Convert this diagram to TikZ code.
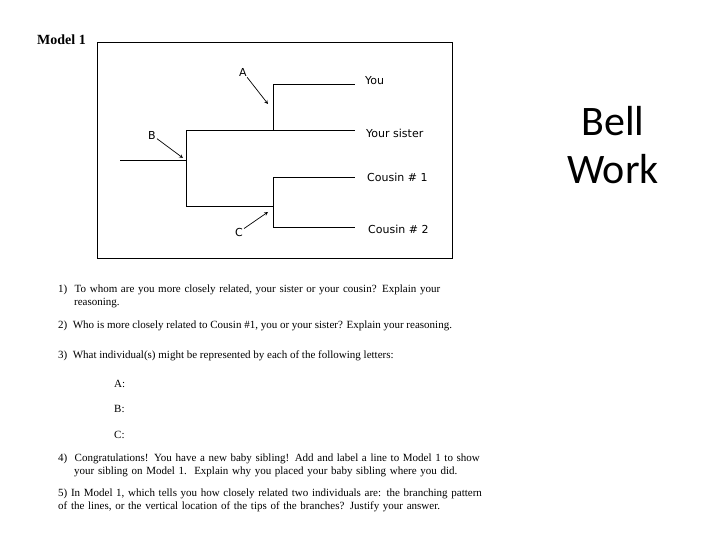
\documentclass[tikz,border=0pt]{standalone}
\usepackage{fontspec}
\setmainfont{Liberation Serif}
\newfontfamily\bwfont{Carlito}
\newfontfamily\dvfont{DejaVu Sans}
\begin{document}
\begin{tikzpicture}[x=1pt,y=-1pt,
 q/.style={anchor=north west,font=\fontsize{11}{12.5}\selectfont,inner sep=0},
 lf/.style={anchor=west,font=\dvfont\fontsize{11}{12}\selectfont,inner sep=0},
 ll/.style={font=\dvfont\fontsize{11}{12}\selectfont,inner sep=1},
 br/.style={line width=1pt},
 ar/.style={-stealth,line width=0.7pt}]
\useasboundingbox (0,0) rectangle (720,540);
\node[anchor=west,font=\bfseries\fontsize{14}{16}\selectfont,inner sep=0] (m) at (37,40) {Model 1};
\draw[line width=1pt] (97,43) rectangle (452,258);
% tree
\coordinate (r0) at (120,161); \coordinate (r1) at (186,161);
\coordinate (t) at (186,131); \coordinate (b) at (186,207);
\coordinate (u1) at (273,85); \coordinate (u2) at (273,131);
\coordinate (l1) at (273,178); \coordinate (l2) at (273,228); \coordinate (lm) at (273,207);
\node[lf] (you) at (365,81) {You};
\node[lf] (sis) at (366,133) {Your sister};
\node[lf] (c1) at (367,177) {Cousin \# 1};
\node[lf] (c2) at (368,229) {Cousin \# 2};
\draw[br] (r0)--(r1) (t)--(b) (t)--(u2) (b)--(lm) (u1)--(u2) (l1)--(l2)
  (u1)--(355,85) (u2)--(355,131) (l1)--(355,178) (l2)--(355,228);
\node[ll] (A) at (243,72) {A};
\node[ll] (B) at (152,135) {B};
\node[ll] (C) at (239,232) {C};
\draw[ar] (A) -- (268,104);
\draw[ar] (B) -- (183,158);
\draw[ar] (C) -- (268,212);
\node[font=\bwfont\fontsize{42}{48}\selectfont,align=center] (bw) at (613,145) {Bell\\Work};
\node[q,text width=440pt] (q1) at (58,285) {1)\ \ To whom are you more closely related, your sister or your cousin? Explain your\\\hspace*{16pt}reasoning.};
\node[q] (q2) at (58,321) {2)\ \ Who is more closely related to Cousin \#1, you or your sister? Explain your reasoning.};
\node[q] (q3) at (58,351) {3)\ \ What individual(s) might be represented by each of the following letters:};
\node[q] (a) at (114,380) {A:};
\node[q] (bb) at (114,405) {B:};
\node[q] (cc) at (114,431) {C:};
\node[q,text width=460pt] (q4) at (58,454) {4)\ \ Congratulations! You have a new baby sibling! Add and label a line to Model 1 to show\\\hspace*{16pt}your sibling on Model 1.\ \ Explain why you placed your baby sibling where you did.};
\node[q,text width=480pt] (q5) at (58,489) {5) In Model 1, which tells you how closely related two individuals are: the branching pattern\\of the lines, or the vertical location of the tips of the branches? Justify your answer.};
\end{tikzpicture}
\end{document}
